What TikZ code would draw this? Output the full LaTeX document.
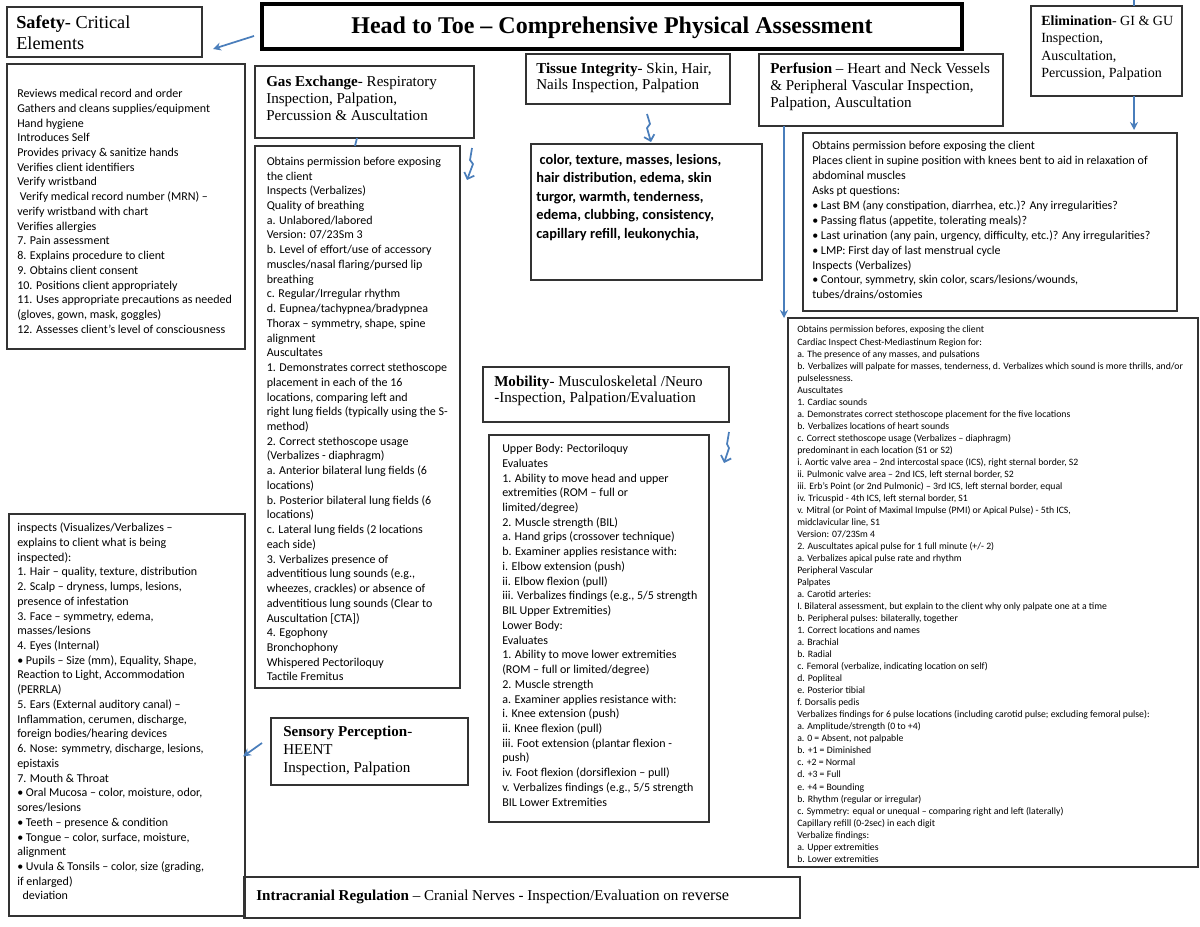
\documentclass[tikz,border=0pt]{standalone}
\usepackage{fontspec}
\setmainfont{Liberation Serif}
\newfontfamily\calfont{Carlito}
\usetikzlibrary{arrows.meta,calc,fit}
\definecolor{arrowblue}{HTML}{4A7EBB}
\definecolor{boxline}{HTML}{333333}
\newcommand\lines[1]{\begin{tabular}[t]{@{}l@{}}#1\end{tabular}}
\newcommand\bx[5]{\path (#2,#3) coordinate (#1-nw) (#4,#5) coordinate (#1-se);
  \node[box, fit=(#1-nw)(#1-se)] (#1) {};}
\tikzset{
  box/.style={draw=boxline, line width=0.9pt, inner sep=0pt, outer sep=0pt},
  hdr/.style={anchor=base west, inner sep=0pt, font=\fontsize{11.3}{13}\selectfont},
  lst/.style={anchor=base west, inner sep=0pt, font=\calfont\fontsize{9}{11.05}\selectfont},
  barrow/.style={draw=arrowblue, line width=1.3pt, -{Stealth[length=6pt,width=6pt]}},
  carrow/.style={draw=arrowblue, line width=1.3pt, line join=round, -{Straight Barb[length=4pt,width=8pt]}},
  bline/.style={draw=arrowblue, line width=1.3pt},
}
\begin{document}
\begin{tikzpicture}[x=0.75pt,y=-0.75pt]
\useasboundingbox (0,0) rectangle (1200,927);
\fill[white] (0,0) rectangle (1200,927);

% ---------- title ----------
\path (262,4) coordinate (title-nw) (962,49) coordinate (title-se);
\node[draw=black, line width=2.4pt, inner sep=0pt, fit=(title-nw)(title-se)] (title) {};
\node[inner sep=0pt, font=\bfseries\fontsize{18}{20}\selectfont] (titletext) at (612,28) {Head to Toe – Comprehensive Physical Assessment};

% ---------- safety ----------
\bx{safhdr}{7}{7}{202}{57}
\node[hdr, font=\fontsize{13.7}{15.8}\selectfont] (safhdrtxt) at (16,28.5) {\lines{\textbf{Safety}- Critical\\Elements}};
\bx{saflist}{7}{64}{245}{349}
\node[lst] (saflisttxt) at (17,97.6) {\lines{Reviews medical record and order\\
Gathers and cleans supplies/equipment\\
Hand hygiene\\
Introduces Self\\
Provides privacy \& sanitize hands\\
Verifies client identifiers\\
Verify wristband\\
\hspace*{2pt}Verify medical record number (MRN) –\\
verify wristband with chart\\
Verifies allergies\\
7. Pain assessment\\
8. Explains procedure to client\\
9. Obtains client consent\\
10. Positions client appropriately\\
11. Uses appropriate precautions as needed\\
(gloves, gown, mask, goggles)\\
12. Assesses client’s level of consciousness}};

% ---------- gas exchange ----------
\bx{gashdr}{255}{66}{474}{138}
\node[hdr] (gashdrtxt) at (266,86.2) {\lines{\textbf{Gas Exchange}- Respiratory\\Inspection, Palpation,\\Percussion \& Auscultation}};
\bx{gaslist}{255}{146}{460}{688}
\node[lst] (gaslisttxt) at (266.5,165.3) {\lines{Obtains permission before exposing\\
the client\\
Inspects (Verbalizes)\\
Quality of breathing\\
a. Unlabored/labored\\
Version: 07/23Sm 3\\
b. Level of effort/use of accessory\\
muscles/nasal flaring/pursed lip\\
breathing\\
c. Regular/Irregular rhythm\\
d. Eupnea/tachypnea/bradypnea\\
Thorax – symmetry, shape, spine\\
alignment\\
Auscultates\\
1. Demonstrates correct stethoscope\\
placement in each of the 16\\
locations, comparing left and\\
right lung fields (typically using the S-\\
method)\\
2. Correct stethoscope usage\\
(Verbalizes - diaphragm)\\
a. Anterior bilateral lung fields (6\\
locations)\\
b. Posterior bilateral lung fields (6\\
locations)\\
c. Lateral lung fields (2 locations\\
each side)\\
3. Verbalizes presence of\\
adventitious lung sounds (e.g.,\\
wheezes, crackles) or absence of\\
adventitious lung sounds (Clear to\\
Auscultation [CTA])\\
4. Egophony\\
Bronchophony\\
Whispered Pectoriloquy\\
Tactile Fremitus}};

% ---------- tissue integrity ----------
\bx{tisshdr}{526}{54}{730}{104}
\node[hdr, font=\fontsize{11.3}{12}\selectfont] (tisshdrtxt) at (536,73.5) {\lines{\textbf{Tissue Integrity}- Skin, Hair,\\Nails Inspection, Palpation}};
\bx{tisslist}{531}{144}{762}{280}
\node[lst, font=\calfont\bfseries\fontsize{10.8}{13.9}\selectfont] (tisslisttxt) at (536,164.4) {\lines{\hspace*{2.5pt}color, texture, masses, lesions,\\
hair distribution, edema, skin\\
turgor, warmth, tenderness,\\
edema, clubbing, consistency,\\
capillary refill, leukonychia,}};

% ---------- perfusion ----------
\bx{perfhdr}{759}{54}{1003}{126}
\node[hdr, font=\fontsize{11.3}{12.75}\selectfont] (perfhdrtxt) at (770,73.5) {\lines{\textbf{Perfusion} – Heart and Neck Vessels\\\& Peripheral Vascular Inspection,\\Palpation, Auscultation}};

% ---------- elimination ----------
\bx{elimhdr}{1031}{6}{1182}{96}
\node[hdr, font=\fontsize{10.5}{13}\selectfont] (elimhdrtxt) at (1041,25.5) {\lines{\textbf{Elimination}- GI \& GU\\Inspection,\\Auscultation,\\Percussion, Palpation}};
\bx{elimlist}{803}{133}{1177}{311}
\node[lst, font=\calfont\fontsize{9}{11.2}\selectfont] (elimlisttxt) at (812,149.6) {\lines{Obtains permission before exposing the client\\
Places client in supine position with knees bent to aid in relaxation of\\
abdominal muscles\\
Asks pt questions:\\
• Last BM (any constipation, diarrhea, etc.)? Any irregularities?\\
• Passing flatus (appetite, tolerating meals)?\\
• Last urination (any pain, urgency, difficulty, etc.)? Any irregularities?\\
• LMP: First day of last menstrual cycle\\
Inspects (Verbalizes)\\
• Contour, symmetry, skin color, scars/lesions/wounds,\\
tubes/drains/ostomies}};

% ---------- cardiac / peripheral vascular ----------
\bx{cardlist}{788}{318}{1198}{867}
\node[lst, font=\calfont\fontsize{7.3}{9.02}\selectfont] (cardlisttxt) at (797,333) {\lines{Obtains permission befores, exposing the client\\
Cardiac Inspect Chest-Mediastinum Region for:\\
a. The presence of any masses, and pulsations\\
b. Verbalizes will palpate for masses, tenderness, d. Verbalizes which sound is more thrills, and/or\\
pulselessness.\\
Auscultates\\
1. Cardiac sounds\\
a. Demonstrates correct stethoscope placement for the five locations\\
b. Verbalizes locations of heart sounds\\
c. Correct stethoscope usage (Verbalizes – diaphragm)\\
predominant in each location (S1 or S2)\\
i. Aortic valve area – 2nd intercostal space (ICS), right sternal border, S2\\
ii. Pulmonic valve area – 2nd ICS, left sternal border, S2\\
iii. Erb’s Point (or 2nd Pulmonic) – 3rd ICS, left sternal border, equal\\
iv. Tricuspid - 4th ICS, left sternal border, S1\\
v. Mitral (or Point of Maximal Impulse (PMI) or Apical Pulse) - 5th ICS,\\
midclavicular line, S1\\
Version: 07/23Sm 4\\
2. Auscultates apical pulse for 1 full minute (+/- 2)\\
a. Verbalizes apical pulse rate and rhythm\\
Peripheral Vascular\\
Palpates\\
a. Carotid arteries:\\
I. Bilateral assessment, but explain to the client why only palpate one at a time\\
b. Peripheral pulses: bilaterally, together\\
1. Correct locations and names\\
a. Brachial\\
b. Radial\\
c. Femoral (verbalize, indicating location on self)\\
d. Popliteal\\
e. Posterior tibial\\
f. Dorsalis pedis\\
Verbalizes findings for 6 pulse locations (including carotid pulse; excluding femoral pulse):\\
a. Amplitude/strength (0 to +4)\\
a. 0 = Absent, not palpable\\
b. +1 = Diminished\\
c. +2 = Normal\\
d. +3 = Full\\
e. +4 = Bounding\\
b. Rhythm (regular or irregular)\\
c. Symmetry: equal or unequal – comparing right and left (laterally)\\
Capillary refill (0-2sec) in each digit\\
Verbalize findings:\\
a. Upper extremities\\
b. Lower extremities}};

% ---------- mobility ----------
\bx{mobhdr}{483}{367}{729}{422}
\node[hdr, font=\fontsize{11.3}{12}\selectfont] (mobhdrtxt) at (494,386.5) {\lines{\textbf{Mobility}- Musculoskeletal /Neuro\\-Inspection, Palpation/Evaluation}};
\bx{moblist}{489}{435}{709}{822}
\node[lst] (moblisttxt) at (502,452.6) {\lines{Upper Body: Pectoriloquy\\
Evaluates\\
1. Ability to move head and upper\\
extremities (ROM – full or\\
limited/degree)\\
2. Muscle strength (BIL)\\
a. Hand grips (crossover technique)\\
b. Examiner applies resistance with:\\
i. Elbow extension (push)\\
ii. Elbow flexion (pull)\\
iii. Verbalizes findings (e.g., 5/5 strength\\
BIL Upper Extremities)\\
Lower Body:\\
Evaluates\\
1. Ability to move lower extremities\\
(ROM – full or limited/degree)\\
2. Muscle strength\\
a. Examiner applies resistance with:\\
i. Knee extension (push)\\
ii. Knee flexion (pull)\\
iii. Foot extension (plantar flexion -\\
push)\\
iv. Foot flexion (dorsiflexion – pull)\\
v. Verbalizes findings (e.g., 5/5 strength\\
BIL Lower Extremities}};

% ---------- HEENT list ----------
\bx{heentlist}{9}{514}{245}{916}
\node[lst] (heentlisttxt) at (17,531.6) {\lines{inspects (Visualizes/Verbalizes –\\
explains to client what is being\\
inspected):\\
1. Hair – quality, texture, distribution\\
2. Scalp – dryness, lumps, lesions,\\
presence of infestation\\
3. Face – symmetry, edema,\\
masses/lesions\\
4. Eyes (Internal)\\
• Pupils – Size (mm), Equality, Shape,\\
Reaction to Light, Accommodation\\
(PERRLA)\\
5. Ears (External auditory canal) –\\
Inflammation, cerumen, discharge,\\
foreign bodies/hearing devices\\
6. Nose: symmetry, discharge, lesions,\\
epistaxis\\
7. Mouth \& Throat\\
• Oral Mucosa – color, moisture, odor,\\
sores/lesions\\
• Teeth – presence \& condition\\
• Tongue – color, surface, moisture,\\
alignment\\
• Uvula \& Tonsils – color, size (grading,\\
if enlarged)\\
\hspace*{4pt}deviation}};

% ---------- sensory perception ----------
\bx{senshdr}{271}{718}{468}{785}
\node[hdr, font=\fontsize{11.3}{13.5}\selectfont] (senshdrtxt) at (283,736.5) {\lines{\textbf{Sensory Perception}-\\HEENT\\Inspection, Palpation}};

% ---------- intracranial ----------
\bx{icrhdr}{244}{877}{800}{918}
\node[hdr] (icrhdrtxt) at (256,900.5) {\textbf{Intracranial Regulation} – Cranial Nerves - Inspection/Evaluation on {\fontsize{12.2}{13}\selectfont reverse}};

% ---------- connectors ----------
\coordinate (safa) at (254,36);
\draw[barrow] (safa) -- ($(safhdr.east)+(11,17)$);

\draw[bline] ($(gashdr.south west)+(102,0)$) -- ($(gaslist.north west)+(100,0)$);
\coordinate (gasa) at (472,148);
\draw[carrow] (gasa) -- (470,160) -- (473,164) -- (467,180);

\coordinate (tissa) at (647,114);
\draw[carrow] (tissa) -- (650,124) -- (647,128) -- (651,142);

\coordinate (moba) at (729,432);
\draw[carrow] (moba) -- (727,444) -- (729,448) -- (724,463);

\coordinate (perfx) at (784,0);
\draw[barrow] (perfhdr.south -| perfx) -- (cardlist.north -| perfx);

\coordinate (elimx) at (1134,0);
\draw[bline] (elimx) -- (elimhdr.north -| elimx);
\draw[barrow] (elimhdr.south -| elimx) -- ($(elimlist.north -| elimx)+(0,-3)$);

\coordinate (sensa) at (262,743);
\draw[barrow] (sensa) -- ($(senshdr.west)+(-28,5)$);
\end{tikzpicture}
\end{document}
